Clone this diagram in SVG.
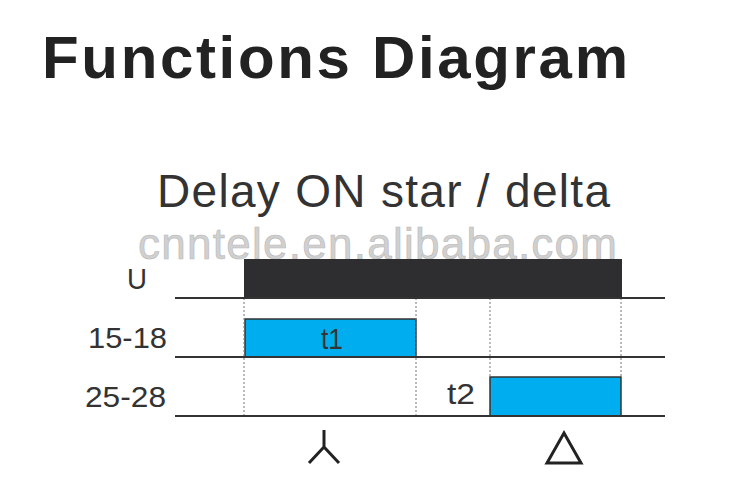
<svg xmlns="http://www.w3.org/2000/svg" width="750" height="483" viewBox="0 0 750 483">
<style>
.lbl{font-family:"Liberation Sans",Arial,sans-serif;font-size:30px;fill:#333}
.base{stroke:#333;stroke-width:2;fill:none}
.dot{stroke:#777;stroke-width:1;stroke-dasharray:2 2;fill:none}
.blue{fill:#00aeef;stroke:#333;stroke-width:1.5}
.sym{stroke:#222;stroke-width:3;fill:none}
</style>
<rect width="750" height="483" fill="#fff"/>
<text x="42" y="78" font-family="Liberation Sans,Arial,sans-serif" font-weight="bold" font-size="60" fill="#222" textLength="586" lengthAdjust="spacing">Functions Diagram</text>
<text x="157" y="207" font-family="Liberation Sans,Arial,sans-serif" font-size="46" fill="#333" textLength="453" lengthAdjust="spacing">Delay ON star / delta</text>
<text x="138" y="259" font-family="Liberation Sans,Arial,sans-serif" font-size="44" fill="#d0d0d0" stroke="#b8b8b8" stroke-width="0.6" textLength="479" lengthAdjust="spacing">cnntele.en.alibaba.com</text>
<g id="bars">
<rect id="U-bar" x="244" y="259" width="378" height="39" fill="#2e2e30"/>
<rect id="t1-bar" class="blue" x="245" y="319" width="171" height="38"/>
<rect id="t2-bar" class="blue" x="490" y="377" width="131" height="39"/>
</g>
<g id="connectors">
<line class="dot" x1="244" y1="298" x2="244" y2="416"/>
<line class="dot" x1="416" y1="298" x2="416" y2="416"/>
<line class="dot" x1="490" y1="298" x2="490" y2="377"/>
<line class="dot" x1="621" y1="298" x2="621" y2="377"/>
<line class="base" x1="175" y1="298" x2="665" y2="298"/>
<line class="base" x1="175" y1="357" x2="665" y2="357"/>
<line class="base" x1="175" y1="416" x2="665" y2="416"/>
</g>
<g id="labels">
<text class="lbl" x="127" y="289" textLength="20" lengthAdjust="spacingAndGlyphs">U</text>
<text class="lbl" x="88" y="348" textLength="79" lengthAdjust="spacingAndGlyphs">15-18</text>
<text class="lbl" x="85" y="407" textLength="81" lengthAdjust="spacingAndGlyphs">25-28</text>
<text class="lbl" x="321" y="349" textLength="22" lengthAdjust="spacingAndGlyphs">t1</text>
<text class="lbl" x="447" y="404" textLength="28" lengthAdjust="spacingAndGlyphs">t2</text>
</g>
<g id="star">
<path class="sym" d="M324 430 V447 L309 463 M324 447 L339 463"/>
</g>
<g id="delta">
<path class="sym" d="M564 433 L581 463 H547 Z" stroke-linejoin="miter"/>
</g>
</svg>
